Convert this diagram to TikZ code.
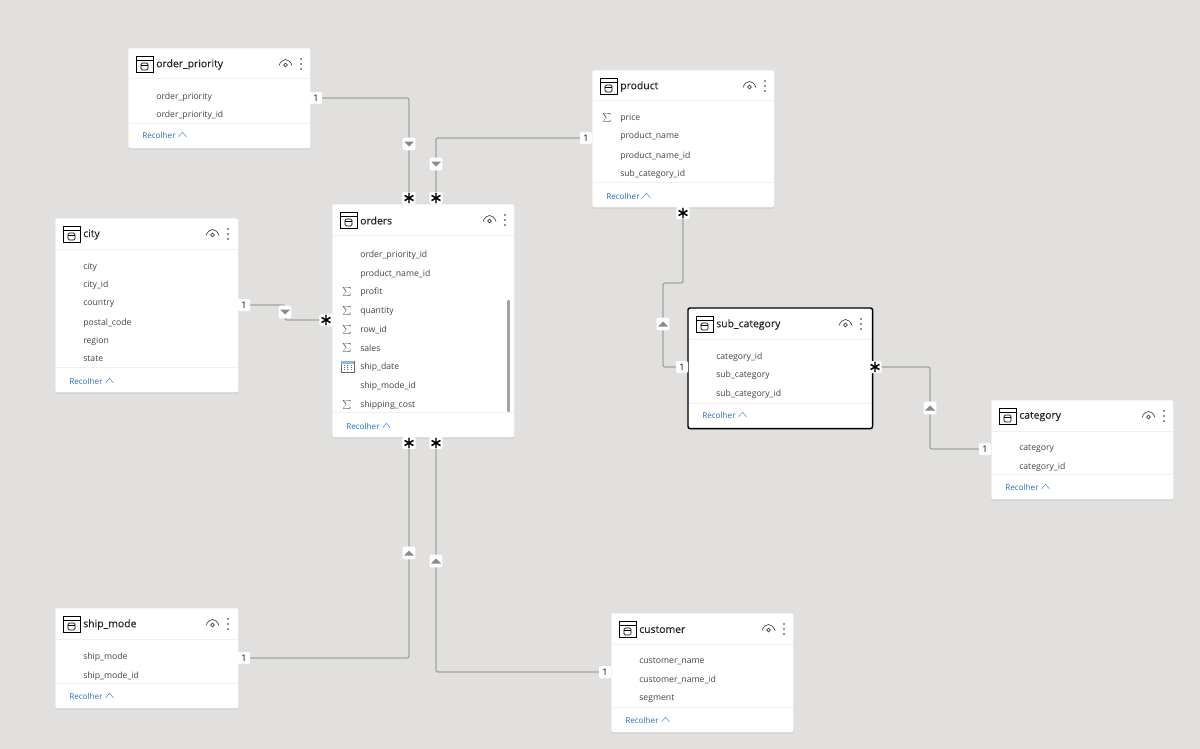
\documentclass[tikz,border=0pt]{standalone}
\usepackage{fontspec}
\setmainfont{Open Sans}
\newfontfamily\titlefont[FakeBold=0.2]{Open Sans}
\newfontfamily\starfont[FakeBold=0.6]{DejaVu Sans}
\usepackage{xcolor}
\usetikzlibrary{shapes,arrows,positioning,backgrounds,fit,shadows,arrows.meta,calc}

\definecolor{canvasgray}{HTML}{E1E0DE}
\definecolor{linkgray}{HTML}{A3A3A3}
\definecolor{fieldtext}{HTML}{444444}
\definecolor{titletext}{HTML}{252423}
\definecolor{footblue}{HTML}{2470C8}
\definecolor{rulegray}{HTML}{F1F0EF}

\pgfdeclarelayer{canvas}
\pgfdeclarelayer{links}
\pgfsetlayers{canvas,links,main}

\newcommand{\starmark}{\starfont\fontsize{12}{12}\selectfont ∗}

\tikzset{
    card/.style={rectangle, anchor=north west, fill=white, rounded corners=1.5pt, inner sep=0pt, minimum width=137pt,
        drop shadow={opacity=0.2, shadow xshift=0pt, shadow yshift=-1pt}},
    cardtitle/.style={anchor=west, inner sep=0pt, yshift=-0.4pt, font=\titlefont\fontsize{7.8}{9}\selectfont, text=titletext},
    field/.style={anchor=west, inner sep=0pt, yshift=-0.75pt, font=\fontsize{6.5}{8}\selectfont, text=fieldtext},
    foot/.style={anchor=west, inner sep=0pt, yshift=-0.4pt, font=\fontsize{6.1}{8}\selectfont, text=footblue},
    sigma/.style={inner sep=0pt, yshift=-0.5pt, text=fieldtext},
    tag/.style={rectangle, fill=white, rounded corners=1pt, inner sep=0pt, minimum width=9pt, minimum height=9pt, font=\fontsize{6.8}{8}\selectfont, text=black},
    chevbox/.style={rectangle, fill=white, rounded corners=1pt, inner sep=0pt, minimum width=9.5pt, minimum height=9.5pt},
    link/.style={draw=linkgray, line width=1pt, rounded corners=1.5pt}
}

\begin{document}
\begin{tikzpicture}[x=0.75pt, y=-0.75pt]
    \useasboundingbox (0,0) rectangle (1200,749);
    \begin{pgfonlayer}{canvas}
        \fill[canvasgray] (0,0) rectangle (1200,749);
    \end{pgfonlayer}

    % Tables with their header and footer
    \foreach \name/\title/\x/\y/\w/\h/\footy in {
        priority/order\_priority/128/48/182/100/135,
        product/product/592/70/182/137/196,
        orders/orders/332/204/182/233/426,
        city/city/55/218/183/174/381,
        subcat/sub\_category/688/308/184/120/415,
        category/category/991/400/182/99/487,
        shipmode/ship\_mode/55/608/183/100/696,
        customer/customer/611/613/182/119/720} {
        \node[card, minimum width=\w*0.75pt, minimum height=\h*0.75pt] (\name) at (\x,\y) {};
        \node[cardtitle] (\name-title) at (\x+28,\y+16) {\title};
        \node[foot] (\name-foot) at (\x+14,\footy) {Recolher};
        \draw[rulegray, line width=0.75pt] (\x,\y+31) -- (\x+\w,\y+31);
        \draw[rulegray, line width=0.5pt] (\x,\y+\h-25) -- (\x+\w,\y+\h-25);
        % table icon
        \draw[black, line width=0.5pt] (\x+8,\y+8) rectangle (\x+25,\y+24);
        \draw[black, line width=0.5pt] (\x+8,\y+12) -- (\x+25,\y+12);
        \draw[black, line width=0.45pt, rounded corners=1pt] (\x+13,\y+15) rectangle (\x+20,\y+22);
        \draw[black, line width=0.35pt] (\x+13,\y+17) -- (\x+20,\y+17);
        % eye and menu dots
        \draw[fieldtext, line width=0.5pt] (\x+151,\y+17.5) .. controls (\x+154,\y+9.5) and (\x+161,\y+9.5) .. (\x+164,\y+17.5);
        \draw[fieldtext, line width=0.5pt] (\x+157.5,\y+17) circle (1.8);
        \foreach \dy in {11,16,21} {
            \fill[titletext] (\x+173,\y+\dy) circle (0.85);
        }
        % collapse chevron
        \draw[footblue!70, line width=0.45pt] ($(\name-foot.east)+(2pt,-1.1pt)$) -- ++(3pt,3.6pt) -- ++(3pt,-3.6pt);
    }

    % Field rows
    \foreach \field/\fx/\fy [count=\n] in {
        order\_priority/156/96, order\_priority\_id/156/114,
        price/620/117, product\_name/620/135, product\_name\_id/620/155, sub\_category\_id/620/173,
        order\_priority\_id/360/254, product\_name\_id/360/273, profit/360/291, quantity/360/310,
        row\_id/360/329, sales/360/347, ship\_date/360/366, ship\_mode\_id/360/385, shipping\_cost/360/404,
        city/83/266, city\_id/83/284, country/83/303, postal\_code/83/322, region/83/340, state/83/358,
        category\_id/716/356, sub\_category/716/374, sub\_category\_id/716/393,
        category/1019/448, category\_id/1019/466,
        ship\_mode/83/656, ship\_mode\_id/83/675,
        customer\_name/639/660, customer\_name\_id/639/679, segment/639/698} {
        \node[field] (field\n) at (\fx,\fy) {\field};
    }

    % Sum markers
    \foreach \sx/\sy [count=\n] in {607/117, 347/291, 347/310, 347/329, 347/347, 347/404} {
        \node[sigma] (sum\n) at (\sx,\sy) {\scalebox{0.65}{$\sum$}};
    }

    % Date marker and scrollbar in orders
    \draw[fieldtext!80, line width=0.5pt] (341,361) rectangle (354,372);
    \fill[footblue!50] (341,361) rectangle (354,363.5);
    \foreach \cx in {344,347.5,351} {
        \draw[fieldtext!80, line width=0.5pt, densely dotted] (\cx,365) -- (\cx,371);
    }
    \draw[linkgray, line width=2pt, line cap=round] (508.5,301) -- (508.5,411);

    % Selected table
    \draw[black, line width=1.1pt, rounded corners=1.5pt] (subcat.north west) rectangle (subcat.south east);

    % Cardinality tags
    \foreach \tagname/\tagtext/\tx/\ty in {
        priorityone/1/316/98, orderstara/\starmark/409/198,
        productone/1/586/138, orderstarb/\starmark/436/198,
        cityone/1/244/305, orderstarc/\starmark/326/320,
        shipone/1/244/658, orderstard/\starmark/409/443,
        customerone/1/605/672, orderstare/\starmark/436/443,
        productstar/\starmark/683/213, subcatone/1/682/367,
        subcatstar/\starmark/875/367, categoryone/1/985/449} {
        \node[tag] (\tagname) at (\tx,\ty) {\tagtext};
    }

    % Direction markers
    \foreach \chevname/\cx/\cy/\d in {
        chevpriority/409/144/1, chevproduct/436/164/1, chevcity/285/312/1,
        chevship/409/553/-1, chevcustomer/436/561/-1,
        chevsubcat/663/324/-1, chevcategory/930/408/-1} {
        \node[chevbox] (\chevname) at (\cx,\cy) {};
        \fill[linkgray!85!black] (\cx-5,\cy-2.5*\d) -- (\cx+5,\cy-2.5*\d) -- (\cx,\cy+2.5*\d) -- cycle;
    }

    % Connectors
    \begin{pgfonlayer}{links}
        \draw[link] (priorityone.center) -| (chevpriority.center) -- (orderstara.center);
        \draw[link] (productone.center) -| (chevproduct.center) -- (orderstarb.center);
        \draw[link] (cityone.center) -| (chevcity.center) |- (orderstarc.center);
        \draw[link] (shipone.center) -| (chevship.center) -- (orderstard.center);
        \draw[link] (customerone.center) -| (chevcustomer.center) -- (orderstare.center);
        \draw[link] (productstar.center) |- (chevsubcat.center |- 0,283) -- (chevsubcat.center) |- (subcatone.center);
        \draw[link] (subcatstar.center) -| (chevcategory.center) |- (categoryone.center);
    \end{pgfonlayer}
\end{tikzpicture}
\end{document}
